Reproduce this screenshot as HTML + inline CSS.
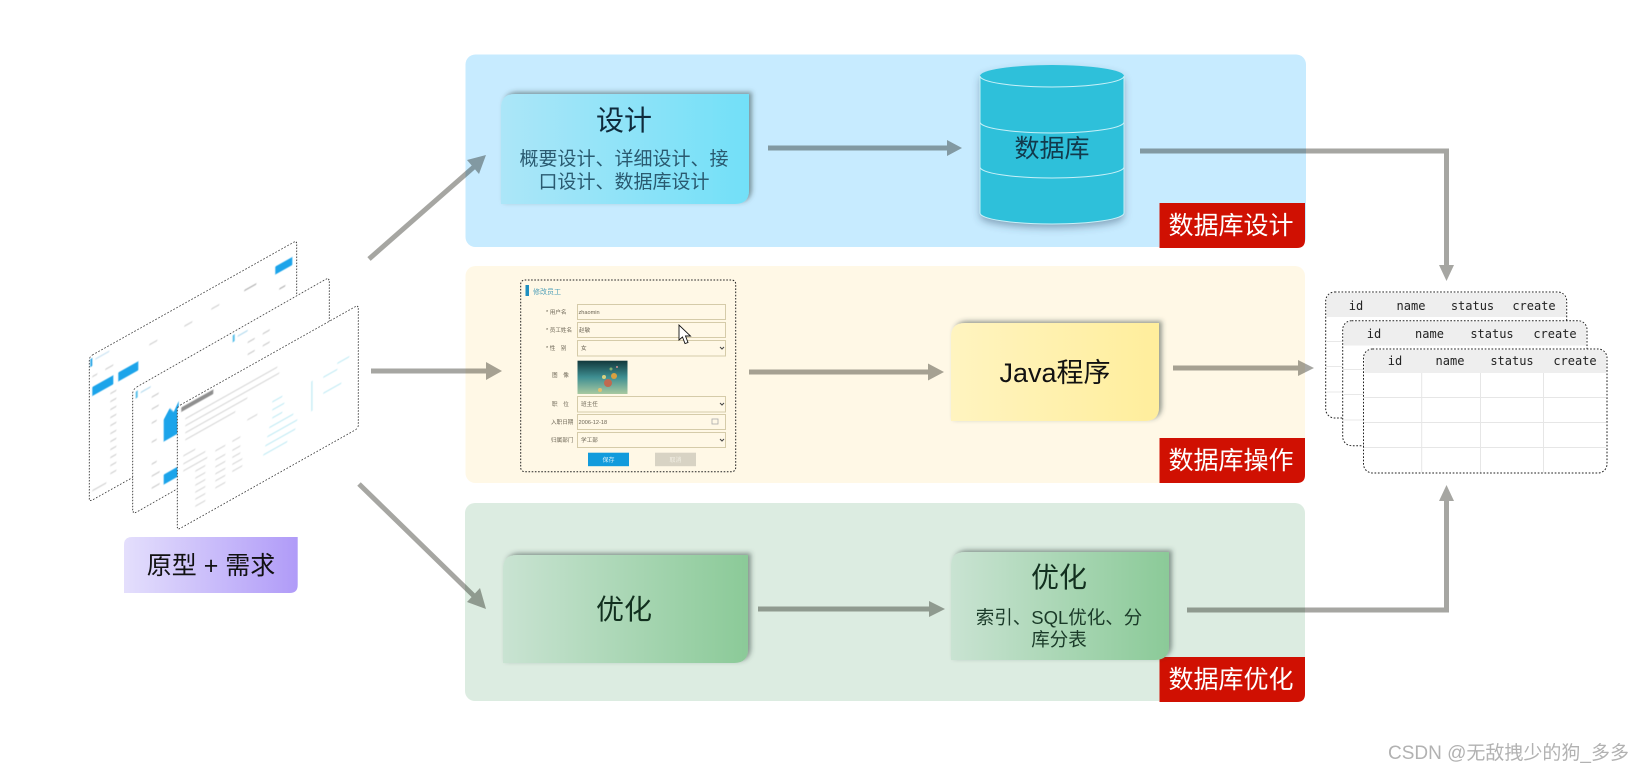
<!DOCTYPE html>
<html lang="zh">
<head>
<meta charset="utf-8">
<title>数据库开发流程</title>
<style>
html,body{margin:0;padding:0;background:#fff;width:1644px;height:772px;overflow:hidden}
svg{display:block;position:absolute;left:0;top:0}
text{font-family:"Liberation Sans","Noto Sans CJK SC",sans-serif}
.mono{font-family:"DejaVu Sans Mono","Liberation Mono",monospace;font-size:12px;fill:#222;text-anchor:middle}
.ar{mix-blend-mode:multiply}
.f{font-size:5.6px;fill:#6b6454;font-family:"Liberation Sans","Noto Sans CJK SC",sans-serif}
</style>
</head>
<body>
<svg width="1644" height="772" viewBox="0 0 1644 772" xmlns="http://www.w3.org/2000/svg">
<defs>
<linearGradient id="gb"><stop offset="0" stop-color="#ace6f8"/><stop offset="1" stop-color="#72e0f8"/></linearGradient>
<linearGradient id="gy"><stop offset="0" stop-color="#fff4c0"/><stop offset="1" stop-color="#ffee9c"/></linearGradient>
<linearGradient id="gg"><stop offset="0" stop-color="#c9e3d2"/><stop offset="1" stop-color="#8bca98"/></linearGradient>
<linearGradient id="gp"><stop offset="0" stop-color="#e4dffc"/><stop offset="1" stop-color="#b09bf8"/></linearGradient>
<linearGradient id="pic" x1="0" y1="0" x2="0" y2="1"><stop offset="0" stop-color="#12383c"/><stop offset=".5" stop-color="#3f8f92"/><stop offset="1" stop-color="#a8c9a0"/></linearGradient>
<filter id="sh" x="-15%" y="-20%" width="130%" height="140%"><feDropShadow dx="3" dy="-2" stdDeviation="2.5" flood-color="#30403c" flood-opacity=".5"/></filter>
<filter id="shc" x="-15%" y="-15%" width="130%" height="130%"><feDropShadow dx="0" dy="4" stdDeviation="4" flood-color="#30506a" flood-opacity=".45"/></filter>
<filter id="bl" x="-5%" y="-5%" width="110%" height="110%"><feGaussianBlur stdDeviation=".45"/></filter>
</defs>

<!-- panels -->
<rect x="465.5" y="54.5" width="840.5" height="192.5" rx="10" fill="#c7ebff"/>
<rect x="465.5" y="266" width="839.5" height="217" rx="10" fill="#fff8e6"/>
<rect x="465" y="503" width="840" height="198" rx="10" fill="#dcece1"/>

<!-- prototype sheets -->
<g transform="matrix(1 -.56 0 1 89.3 356.7)">
<rect width="207.4" height="145" rx="3" fill="#fff" stroke="#333" stroke-width=".9" stroke-dasharray="1.5 1.5"/>
<g filter="url(#bl)">
<rect x="1" y="3" width="2" height="8" fill="#2aa7e6"/>
<rect x="6" y="5" width="14" height="1.5" fill="#cfe6f4"/>
<rect x="3" y="32" width="21" height="9" fill="#1ea4ea"/>
<rect x="29" y="32" width="20" height="9" fill="#1ea4ea"/>
<rect x="186" y="14" width="17" height="8" fill="#1ea4ea"/>
<g fill="#d4d4d4">
<rect x="3" y="21" width="5" height="1.4"/><rect x="16" y="21" width="8" height="1.4"/><rect x="60" y="21" width="8" height="1.4"/><rect x="95" y="22" width="8" height="1.4"/><rect x="122" y="20" width="8" height="1.4"/><rect x="155" y="20" width="12" height="1.4" fill="#b5b5b5"/><rect x="190" y="38" width="6" height="1.4" fill="#b5b5b5"/>
<rect x="21" y="48" width="6" height="1.4"/><rect x="21" y="56" width="6" height="1.4"/><rect x="21" y="64" width="6" height="1.4"/><rect x="21" y="72" width="6" height="1.4"/><rect x="21" y="80" width="6" height="1.4"/><rect x="21" y="88" width="6" height="1.4"/><rect x="21" y="96" width="6" height="1.4"/><rect x="21" y="104" width="6" height="1.4"/><rect x="21" y="112" width="6" height="1.4"/><rect x="21" y="120" width="6" height="1.4"/><rect x="21" y="128" width="6" height="1.4"/>
<rect x="3" y="135" width="14" height="1.4"/>
</g>
</g>
</g>
<g transform="matrix(1 -.57 0 1 132.7 389.3)">
<rect width="196.6" height="125" rx="4" fill="#fff" stroke="#333" stroke-width=".9" stroke-dasharray="1.5 1.5"/>
<g filter="url(#bl)">
<rect x="3" y="4" width="2" height="7" fill="#5ac0ea"/>
<rect x="8" y="7" width="10" height="1.5" fill="#bcdff0"/>
<rect x="100" y="3" width="2" height="7" fill="#5ac0ea"/>
<rect x="105" y="6" width="10" height="1.5" fill="#bcdff0"/>
<polygon points="31,70 31,48 37,40 41,46 46,38 46,70" fill="#1ea4ea"/>
<rect x="31" y="103" width="15" height="10" fill="#1ea4ea"/>
<g fill="#cfcfcf">
<rect x="19" y="18" width="7" height="1.4"/><rect x="19" y="30" width="7" height="1.4"/><rect x="19" y="44" width="5" height="1.4"/><rect x="19" y="63" width="5" height="1.4"/><rect x="19" y="85" width="5" height="1.4"/><rect x="19" y="97" width="8" height="1.4"/><rect x="19" y="109" width="8" height="1.4"/>
<rect x="115" y="18" width="7" height="1.4"/><rect x="130" y="18" width="7" height="1.4"/><rect x="115" y="30" width="7" height="1.4"/><rect x="130" y="30" width="7" height="1.4"/>
</g>
</g>
</g>
<g transform="matrix(1 -.562 0 1 177.3 406.7)">
<rect width="181" height="123.3" rx="3" fill="#fff" stroke="#333" stroke-width=".9" stroke-dasharray="1.5 1.5"/>
<g filter="url(#bl)">
<rect x="4" y="3" width="32" height="4.5" fill="#8f8f8f"/>
<g fill="#d6d6d6">
<rect x="8" y="16" width="92" height="1.2"/><rect x="8" y="23" width="94" height="1.2"/><rect x="8" y="30" width="62" height="1.2"/><rect x="8" y="37" width="50" height="1.2"/>
<rect x="6" y="52" width="12" height="1.2"/><rect x="6" y="60" width="22" height="1.2"/><rect x="6" y="67" width="24" height="1.2"/>
<rect x="18" y="74" width="10" height="1.2"/><rect x="18" y="81" width="10" height="1.2"/><rect x="18" y="88" width="10" height="1.2"/><rect x="18" y="95" width="10" height="1.2"/><rect x="18" y="102" width="10" height="1.2"/><rect x="18" y="109" width="10" height="1.2"/>
<rect x="38" y="65" width="10" height="1.2"/><rect x="38" y="74" width="10" height="1.2"/><rect x="38" y="81" width="10" height="1.2"/><rect x="38" y="88" width="10" height="1.2"/><rect x="38" y="95" width="10" height="1.2"/><rect x="38" y="102" width="10" height="1.2"/>
<rect x="55" y="65" width="8" height="1.2"/><rect x="55" y="74" width="8" height="1.2"/><rect x="55" y="81" width="8" height="1.2"/><rect x="55" y="88" width="10" height="1.2"/><rect x="55" y="95" width="10" height="1.2"/>
<rect x="70" y="52" width="10" height="1.2"/>
</g>
<g fill="#bfeaf4">
<rect x="95" y="48" width="10" height="1.2"/><rect x="95" y="56" width="12" height="1.2"/><rect x="95" y="64" width="10" height="1.2"/><rect x="92" y="72" width="24" height="1.2"/><rect x="90" y="80" width="30" height="1.2"/><rect x="88" y="88" width="30" height="1.2"/><rect x="86" y="96" width="24" height="1.2"/>
<rect x="134" y="50" width="1.2" height="30"/><rect x="146" y="52" width="14" height="1.2"/><rect x="146" y="68" width="18" height="1.2"/><rect x="160" y="46" width="12" height="1.2"/>
</g>
</g>
</g>

<!-- purple label -->
<path d="M132,537H297.7V585Q297.7,593 289.7,593H124V545Q124,537 132,537Z" fill="url(#gp)"/>
<text x="211" y="574" font-size="25" text-anchor="middle" fill="#111">原型 + 需求</text>

<!-- design box -->
<path d="M515,94H749V190Q749,204 735,204H501V108Q501,94 515,94Z" fill="url(#gb)" filter="url(#sh)"/>
<text x="624" y="130" font-size="28" text-anchor="middle" fill="#0f2a3c">设计</text>
<text x="624" y="165" font-size="19" text-anchor="middle" fill="#2a5a70">概要设计、详细设计、接</text>
<text x="624" y="188" font-size="19" text-anchor="middle" fill="#2a5a70">口设计、数据库设计</text>

<!-- cylinder -->
<g filter="url(#shc)">
<path d="M980,76V213A72,11 0 0 0 1124,213V76Z" fill="#2dc0da"/>
<ellipse cx="1052" cy="76" rx="72" ry="11" fill="#2dc0da"/>
</g>
<path d="M980,76V213A72,11 0 0 0 1124,213V76" fill="none" stroke="#c8f0f8" stroke-width="1"/>
<path d="M980,76A72,11 0 0 0 1124,76" fill="none" stroke="#c8f0f8" stroke-width="1"/>
<path d="M980,122A72,11 0 0 0 1124,122" fill="none" stroke="#c8f0f8" stroke-width="1"/>
<path d="M980,167A72,11 0 0 0 1124,167" fill="none" stroke="#c8f0f8" stroke-width="1"/>
<text x="1052" y="157" font-size="25" text-anchor="middle" fill="#123a4c">数据库</text>

<!-- red labels -->
<path d="M1159.5,203H1305V240Q1305,248 1297,248H1159.5Z" fill="#d01002"/>
<text x="1231" y="234" font-size="25" text-anchor="middle" fill="#fff">数据库设计</text>
<path d="M1159.5,438H1305V475Q1305,483 1297,483H1159.5Z" fill="#d01002"/>
<text x="1231" y="469" font-size="25" text-anchor="middle" fill="#fff">数据库操作</text>
<path d="M1159.5,657H1305V694Q1305,702 1297,702H1159.5Z" fill="#d01002"/>
<text x="1231" y="688" font-size="25" text-anchor="middle" fill="#fff">数据库优化</text>

<!-- form -->
<rect x="520.7" y="280" width="215" height="191.7" rx="4" fill="#fff8e6" stroke="#222" stroke-width="1" stroke-dasharray="1.6 1.6"/>
<rect x="525.5" y="285" width="3.5" height="11" fill="#1e8fc0"/>
<text x="533" y="294" font-size="7" fill="#4f9fb8">修改员工</text>
<g fill="#fff8e6" stroke="#d5cba9" stroke-width="1">
<rect x="577.5" y="304.5" width="148" height="15"/>
<rect x="577.5" y="322.5" width="148" height="15"/>
<rect x="577.5" y="340.5" width="148" height="15.5"/>
<rect x="577.5" y="396.5" width="148" height="15.5"/>
<rect x="577.5" y="414.5" width="148" height="15"/>
<rect x="577.5" y="432.5" width="148" height="15"/>
</g>
<text class="f" x="546" y="314">* 用户名</text>
<text class="f" x="546" y="332">* 员工姓名</text>
<text class="f" x="546" y="350">* 性　别</text>
<text class="f" x="552" y="377">图　像</text>
<text class="f" x="552" y="406">职　位</text>
<text class="f" x="551" y="424">入职日期</text>
<text class="f" x="551" y="442">归属部门</text>
<text class="f" x="578.500" y="314">zhaomin</text>
<text class="f" x="579" y="332">赵敏</text>
<text class="f" x="581" y="350">女</text>
<text class="f" x="581" y="406">班主任</text>
<text class="f" x="578.500" y="424">2006-12-18</text>
<text class="f" x="581" y="442">学工部</text>
<g fill="none" stroke="#444" stroke-width="1">
<path d="M720,347l2,2l2,-2"/><path d="M720,403l2,2l2,-2"/><path d="M720,439l2,2l2,-2"/>
</g>
<rect x="712" y="419" width="6" height="5" fill="none" stroke="#aaa" stroke-width=".8"/>
<rect x="577.5" y="360.7" width="50" height="33.3" fill="url(#pic)"/>
<circle cx="608" cy="383" r="4" fill="#c06a50"/><circle cx="614" cy="376" r="3" fill="#d8a040"/><circle cx="604" cy="377" r="2" fill="#d8d080"/><circle cx="611" cy="369" r="1.5" fill="#7fae70"/><circle cx="600" cy="390" r="2" fill="#e0c070"/><circle cx="617" cy="367" r="1" fill="#d09090"/>
<rect x="588" y="452.7" width="41" height="13.5" fill="#129bdc"/>
<text x="608.5" y="462" font-size="6" fill="#d8f0fa" text-anchor="middle">保存</text>
<rect x="655" y="452.7" width="41" height="13.5" fill="#d8d3c4"/>
<text x="675.5" y="462" font-size="6" fill="#f2efe4" text-anchor="middle">取消</text>
<path d="M679,325V340L682.5,337L685,343.5L688,342.5L685.5,336L690.5,336Z" fill="#fff" stroke="#111" stroke-width=".9"/>

<!-- java -->
<path d="M965,323H1159V407Q1159,421 1145,421H951V337Q951,323 965,323Z" fill="url(#gy)" filter="url(#sh)"/>
<text x="1055" y="382" font-size="27" text-anchor="middle" fill="#111">Java程序</text>

<!-- green boxes -->
<path d="M517,555H748V649Q748,663 734,663H503V569Q503,555 517,555Z" fill="url(#gg)" filter="url(#sh)"/>
<text x="624" y="619" font-size="28" text-anchor="middle" fill="#12301f">优化</text>
<path d="M965,552H1169V646Q1169,660 1155,660H951V566Q951,552 965,552Z" fill="url(#gg)" filter="url(#sh)"/>
<text x="1059" y="587" font-size="28" text-anchor="middle" fill="#12301f">优化</text>
<text x="1059" y="624" font-size="18.500" text-anchor="middle" fill="#1a3a28">索引、SQL优化、分</text>
<text x="1059" y="646" font-size="18.500" text-anchor="middle" fill="#1a3a28">库分表</text>

<!-- tables -->
<rect x="1325.7" y="292" width="241" height="126" rx="9" fill="#fff" stroke="#222" stroke-width="1" stroke-dasharray="1.7 1.7"/>
<path d="M1335,293H1558Q1566,293 1566,301V317H1326.5V301Q1326.5,293 1335,293Z" fill="#eeeeee"/>
<g stroke="#e8e8e8" fill="none"><path d="M1326,341.5H1566M1326,366.5H1566M1326,392H1566"/></g>
<text class="mono" x="1356" y="310">id</text><text class="mono" x="1411" y="310">name</text><text class="mono" x="1472.5" y="310">status</text><text class="mono" x="1534" y="310">create</text>

<rect x="1342.7" y="320.7" width="244.3" height="125" rx="9" fill="#fff" stroke="#222" stroke-width="1" stroke-dasharray="1.7 1.7"/>
<path d="M1352,321.5H1578Q1586,321.5 1586,330V345.500H1343.5V330Q1343.5,321.5 1352,321.5Z" fill="#eeeeee"/>
<g stroke="#e8e8e8" fill="none"><path d="M1343,369.500H1586M1343,394.500H1586M1343,420H1586"/></g>
<text class="mono" x="1374" y="338">id</text><text class="mono" x="1429.500" y="338">name</text><text class="mono" x="1492" y="338">status</text><text class="mono" x="1555" y="338">create</text>

<rect x="1363.500" y="349" width="243.500" height="124" rx="9" fill="#fff" stroke="#222" stroke-width="1" stroke-dasharray="1.7 1.7"/>
<path d="M1372,350H1598Q1606,350 1606,358V373H1364.500V358Q1364.500,350 1372,350Z" fill="#eeeeee"/>
<g stroke="#e6e6e6" fill="none"><path d="M1364,397.500H1606M1364,422.500H1606M1364,447.500H1606M1421.700,373V472.500M1480.500,373V472.500M1543.500,373V472.500"/></g>
<text class="mono" x="1395" y="365">id</text><text class="mono" x="1450" y="365">name</text><text class="mono" x="1512" y="365">status</text><text class="mono" x="1575" y="365">create</text>

<!-- arrows -->
<g fill="#a6a6a2" stroke="none">
<g class="ar"><path d="M369,259L475,166" stroke="#a6a6a2" stroke-width="5" fill="none"/><polygon points="486,155 479,174 467,160"/></g>
<g class="ar"><path d="M371,371H490" stroke="#a6a6a2" stroke-width="5" fill="none"/><polygon points="502,371 486,362 486,380"/></g>
<g class="ar"><path d="M359,484L475,597" stroke="#a6a6a2" stroke-width="5" fill="none"/><polygon points="486,609 467,602 480,588"/></g>
<g class="ar"><path d="M768,148H950" stroke="#a6a6a2" stroke-width="5" fill="none"/><polygon points="962,148 947,140 947,156"/></g>
<g class="ar"><path d="M749,372H932" stroke="#a6a6a2" stroke-width="5" fill="none"/><polygon points="944,372 928,363.500 928,380.500"/></g>
<g class="ar"><path d="M758,609H932" stroke="#a6a6a2" stroke-width="5" fill="none"/><polygon points="945,609 929,601 929,617"/></g>
<g class="ar"><path d="M1173,368H1302" stroke="#a6a6a2" stroke-width="5" fill="none"/><polygon points="1314,368 1298,360 1298,376"/></g>
<g class="ar"><path d="M1140,151H1446.500V268" stroke="#a6a6a2" stroke-width="5" fill="none"/><polygon points="1446.500,281 1439,265 1454,265"/></g>
<g class="ar"><path d="M1187,610H1446.500V498" stroke="#a6a6a2" stroke-width="5" fill="none"/><polygon points="1446.500,485 1439,501 1454,501"/></g>
</g>

<!-- watermark -->
<text x="1388" y="759" font-size="19" fill="#b2b2b2">CSDN @无敌拽少的狗_多多</text>
</svg>
</body>
</html>
